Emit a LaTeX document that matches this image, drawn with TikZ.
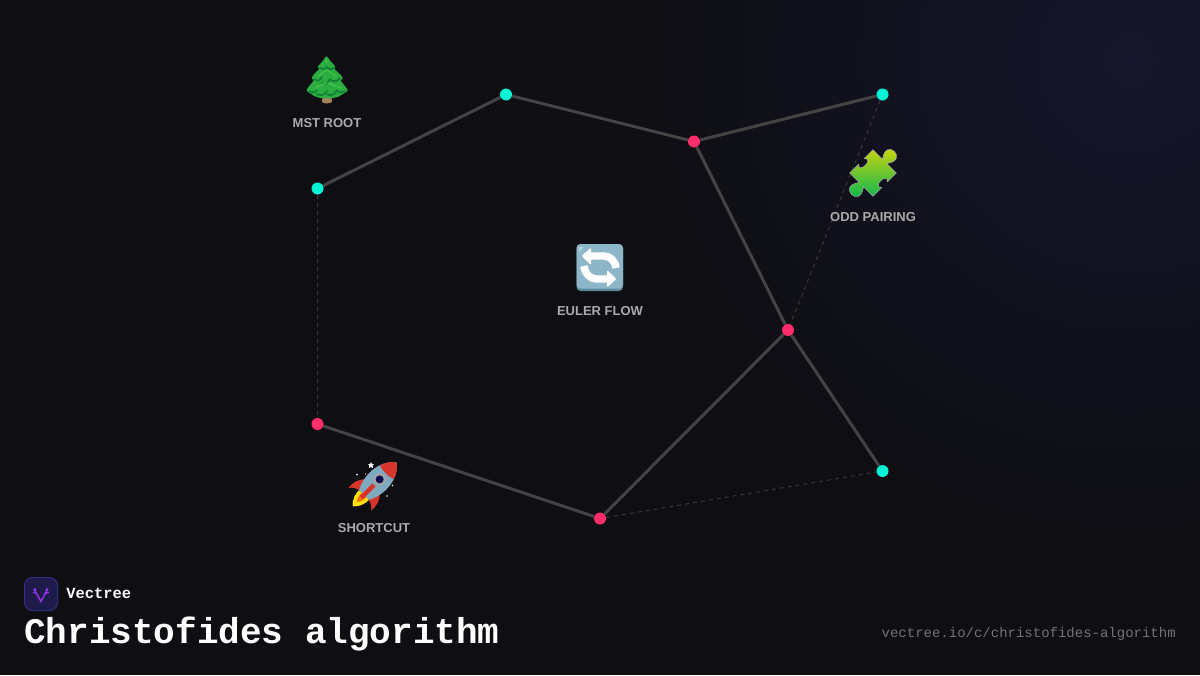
\documentclass[tikz,border=0pt]{standalone}
\usepackage{fontspec}
\setmainfont{Liberation Sans}
\newfontfamily\monof{Liberation Mono}
\pgfdeclarelayer{under}
\pgfsetlayers{under,main}
\definecolor{bgbase}{HTML}{0E0E13}
\definecolor{glow}{HTML}{16162C}
\definecolor{teal}{HTML}{00F5D4}
\definecolor{pinkdot}{HTML}{FF2D6B}
\definecolor{edgegrey}{HTML}{444444}
\definecolor{dashgrey}{HTML}{383838}
\definecolor{labelgrey}{HTML}{AAAAAA}
\definecolor{treeA}{HTML}{2BAE3F}
\definecolor{treeB}{HTML}{0F8035}
\definecolor{treeC}{HTML}{45C04A}
\definecolor{rocketBody}{HTML}{7FA9BE}
\definecolor{rocketRed}{HTML}{D8352A}
\definecolor{puzzleTop}{HTML}{C9D40F}
\definecolor{puzzleMid}{HTML}{8CCB1E}
\definecolor{puzzleBot}{HTML}{0CB84E}
\definecolor{eulerA}{HTML}{8DB7C9}
\definecolor{eulerB}{HTML}{5E8C9E}
\definecolor{eulerC}{HTML}{B4D3DF}
\definecolor{logofill}{HTML}{1E1B4B}
\definecolor{logodraw}{HTML}{312E81}
\definecolor{logov}{HTML}{9333EA}
\tikzset{
  x=0.75pt,y=-0.75pt,
  dotT/.style={circle,fill=teal,inner sep=0pt,minimum size=9pt},
  dotP/.style={circle,fill=pinkdot,inner sep=0pt,minimum size=9pt},
  solidedge/.style={draw=edgegrey,line width=2.25pt},
  faintedge/.style={draw=dashgrey,line width=0.75pt,dash pattern=on 3pt off 3pt},
  lab/.style={text=labelgrey,font=\fontsize{9.75pt}{12pt}\selectfont\bfseries,inner sep=0pt},
  puzzlepos/.style={shift={(873,173)},rotate=-45},
}
\newcommand{\puzzlepath}{(-16.5,-16.5) -- (-3,-16.5) .. controls (-17,-35) and (17,-35) .. (3,-16.5) -- (16.5,-16.5) -- (16.5,-4) .. controls (9,-12) and (9,12) .. (16.5,4) -- (16.5,16.5) -- (3,16.5) .. controls (17,35) and (-17,35) .. (-3,16.5) -- (-16.5,16.5) -- (-16.5,4) .. controls (-9,12) and (-9,-12) .. (-16.5,-4) -- cycle}
\begin{document}
\begin{tikzpicture}
\useasboundingbox (0,0) rectangle (1200,675);
% graph nodes
\node[dotT] (a) at (317.5,188.5) {};
\node[dotT] (b) at (506,94.5) {};
\node[dotP] (c) at (694,141.5) {};
\node[dotT] (d) at (882.5,94.5) {};
\node[dotP] (e) at (788,330) {};
\node[dotT] (f) at (882.5,471) {};
\node[dotP] (g) at (600,518.5) {};
\node[dotP] (h) at (317.5,424) {};
\begin{pgfonlayer}{under}
  \fill[bgbase] (0,0) rectangle (1200,675);
  \begin{scope}
    \clip (0,0) rectangle (1200,675);
    \shade[inner color=glow,outer color=bgbase] (1130,60) circle[radius=480];
  \end{scope}
  \draw[faintedge] (a) -- (h);
  \draw[faintedge] (d) -- (e);
  \draw[faintedge] (g) -- (f);
  \draw[solidedge] (a) -- (b);
  \draw[solidedge] (b) -- (c);
  \draw[solidedge] (c) -- (d);
  \draw[solidedge] (c) -- (e);
  \draw[solidedge] (e) -- (f);
  \draw[solidedge] (e) -- (g);
  \draw[solidedge] (g) -- (h);
\end{pgfonlayer}
% labels
\node[lab] (l1) at (327,123.5) {MST ROOT};
\node[lab] (l2) at (873,217.5) {ODD PAIRING};
\node[lab] (l3) at (600,311.5) {EULER FLOW};
\node[lab] (l4) at (374,528.5) {SHORTCUT};
% tree icon
\fill[brown!60!gray] (323,92) -- (331,92) -- (332,102) .. controls (328,104) and (325,104) .. (322,102) -- cycle;
\fill[treeA,rounded corners=1.5pt] (326.5,55.5) -- (331,62) -- (336,67) -- (333.5,68.5) -- (339,73) -- (343.5,78.5) -- (340,80) -- (344,85) -- (348.5,90.5) -- (343,94) -- (337,97.5) -- (327,98.5) -- (317,97.5) -- (311,94) -- (306,90.5) -- (310,85) -- (314.5,80) -- (311,78.5) -- (315,73) -- (320,68.5) -- (317,67) -- (322,62) -- cycle;
\draw[treeB,line width=1.3pt,line cap=round]
  (309.5,91) .. controls (312,93) and (315,93) .. (317,90)
  (317,94.5) .. controls (321,96) and (325,95) .. (327,91)
  (327,94.5) .. controls (331,96) and (335,95) .. (337,90)
  (337,91) .. controls (339,93) and (342,93) .. (345,91)
  (314,79) .. controls (317,81.5) and (320,81) .. (322,77)
  (322,83) .. controls (325,85) and (328,84) .. (330,79)
  (330,79.5) .. controls (333,82) and (337,82) .. (340,78.5)
  (320,68) .. controls (322,70) and (325,70) .. (327,66.5)
  (327,67) .. controls (329,70) and (332,70) .. (334,67.5);
\draw[treeC,line width=1pt,line cap=round]
  (326.5,59) -- (326.5,63)
  (326,70) -- (319,76)
  (327,70) -- (336,76)
  (326,83) -- (315,88)
  (328,83) -- (341,88);
% puzzle icon
\begin{scope}
  \clip[puzzlepos] \puzzlepath;
  \shade[top color=puzzleTop,middle color=puzzleMid,bottom color=puzzleBot] (845,148) rectangle (900,198);
\end{scope}
\draw[puzzlepos,draw=gray!70,line width=0.4pt] \puzzlepath;
% euler icon
\fill[eulerB,rounded corners=3pt] (576.5,244) rectangle (623,291);
\fill[eulerA,rounded corners=3pt] (576.5,244) rectangle (623,288.5);
\fill[eulerC] (579,247) -- (584,247) -- (579,252) -- cycle;
\draw[white,line width=5.6pt,line cap=butt] (616,268) .. controls (615,260) and (610,256.5) .. (604,256) -- (590,256);
\fill[white,rounded corners=1pt] (581.5,256) -- (591,247.5) -- (591,265) -- cycle;
\draw[white,line width=5.6pt,line cap=butt] (584,266) .. controls (585,274) and (590,278.5) .. (596,279) -- (608,279);
\fill[white,rounded corners=1pt] (616.5,279) -- (607,270) -- (607,287.5) -- cycle;
% rocket icon
\begin{scope}[shift={(374,485)},rotate=-45]
\fill[yellow!85!orange] (0,30) .. controls (-6,25) and (-7,19) .. (-7,13) -- (7,13) .. controls (7,19) and (6,25) .. (0,30) -- cycle;
\fill[orange!90!red] (0,24) .. controls (-3,21) and (-3.5,17) .. (-3,13) -- (3,13) .. controls (3.5,17) and (3,21) .. (0,24) -- cycle;
\fill[rocketRed] (-9,1) .. controls (-15,6) and (-17,13) .. (-16,20) .. controls (-13,16) and (-9,14) .. (-5,14) -- cycle;
\fill[rocketRed] (9,1) .. controls (15,6) and (17,13) .. (16,20) .. controls (13,16) and (9,14) .. (5,14) -- cycle;
\fill[rocketBody] (0,-32) .. controls (-12,-23) and (-16,-3) .. (-7,14) -- (7,14) .. controls (16,-3) and (12,-23) .. (0,-32) -- cycle;
\fill[rocketRed] (0,-32) .. controls (-5,-28) and (-8,-24) .. (-9.5,-18) .. controls (-4,-16) and (4,-16) .. (9.5,-18) .. controls (8,-24) and (5,-28) .. (0,-32) -- cycle;
\fill[rocketRed] (-2.2,0) -- (2.2,0) -- (2.2,18) -- (-2.2,18) -- cycle;
\fill[gray!70!white] (0,-8) circle[radius=6];
\fill[black!70!blue!90!gray] (0,-8) circle[radius=4];
\end{scope}
\fill[white!90!gray] (371,462) -- (372,464) -- (374,464.4) -- (372.6,465.8) -- (373,468) -- (371,467) -- (369,468) -- (369.4,465.8) -- (368,464.4) -- (370,464) -- cycle;
\foreach \px/\py/\pr in {357/474.5/1,365.5/474/0.6,392.5/485.5/0.9,387/496/0.8}
  \fill[white!85!gray] (\px,\py) circle[radius=\pr];
% logo
\filldraw[fill=logofill,draw=logodraw,line width=0.75pt,rounded corners=6pt] (24.5,577.5) rectangle (57.5,610.5);
\draw[logov,line width=1.1pt,line cap=round] (34.5,590) -- (41,601.5) -- (47,590);
\draw[logov,line width=1pt,line cap=round] (36.5,593) -- (33.5,592.5) (45,593.5) -- (48.5,592.5);
\fill[logov] (34.7,589.5) circle[radius=1.7] (47,589.5) circle[radius=1.7];
% text
\node[anchor=west,inner sep=0pt,text=white!95!gray,font=\monof\bfseries\fontsize{11.6pt}{14pt}\selectfont] (brand) at (66,593.5) {Vectree};
\node[anchor=west,inner sep=0pt,text=white,font=\monof\bfseries\fontsize{27pt}{32pt}\selectfont] (title) at (24,634) {Christofides algorithm};
\node[anchor=east,inner sep=0pt,text=white!45!black,font=\monof\fontsize{10.5pt}{13pt}\selectfont] (url) at (1176,633.5) {vectree.io/c/christofides-algorithm};
\end{tikzpicture}
\end{document}
